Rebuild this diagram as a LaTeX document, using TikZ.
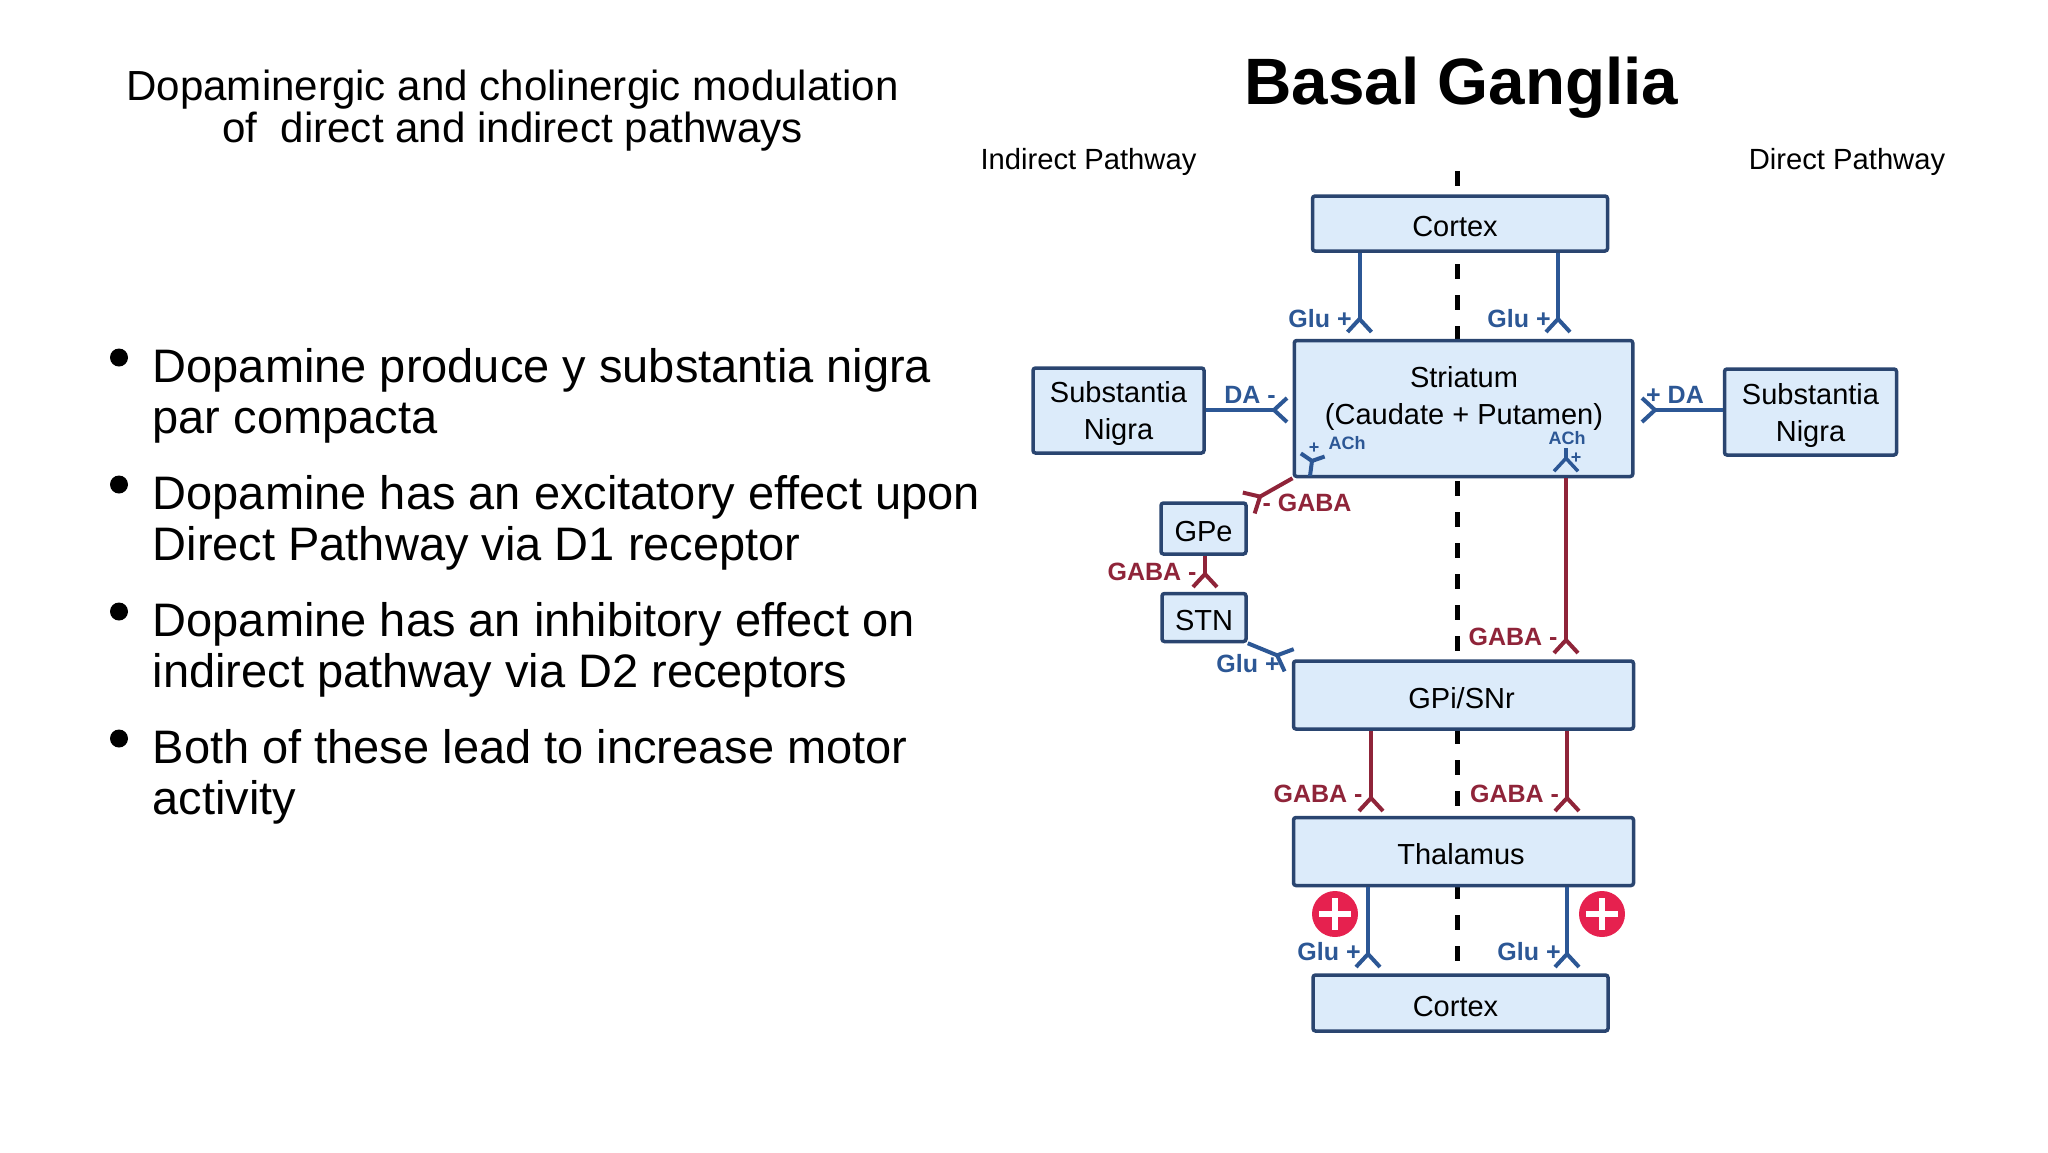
\documentclass[tikz,border=0pt]{standalone}
\usepackage{fontspec}
\setmainfont{Liberation Sans}
\usetikzlibrary{arrows.meta}
\definecolor{boxline}{HTML}{2A4570}
\definecolor{boxfill}{HTML}{DCEBFA}
\definecolor{gluline}{HTML}{2C5795}
\definecolor{gabaline}{HTML}{8F2439}
\definecolor{pluscol}{HTML}{E6214F}
\newcommand{\fs}[1]{\fontsize{#1}{#1}\selectfont}
\tikzset{
area/.style={
  draw=boxline,
  fill=boxfill,
  line width=3.5pt,
  rounded corners=2.5pt,
  inner sep=0pt,
  align=center,
  text depth=0pt,
  font=\fs{29}
},
oneline/.style={area,text height=26pt},
boxtext/.style={inner sep=0pt,align=center,font=\fs{29}},
glu/.style={
  draw=gluline,
  line width=4pt,
  -{Straight Barb[reversed,length=13pt,width=24pt,line cap=butt,line join=miter]}
},
gaba/.style={glu,draw=gabaline},
glulab/.style={text=gluline,font=\bfseries\fs{25},inner sep=0pt},
gabalab/.style={text=gabaline,font=\bfseries\fs{25},inner sep=0pt},
achlab/.style={text=gluline,font=\bfseries\fs{18},inner sep=0pt},
plus/.style={
  circle,
  fill=pluscol,
  minimum size=46pt,
  inner sep=0pt,
  path picture={
    \fill[white] (path picture bounding box.center) +(-16pt,-3.3pt) rectangle +(16pt,3.3pt);
    \fill[white] (path picture bounding box.center) +(-3.3pt,-16pt) rectangle +(3.3pt,16pt);
  }
},
dot/.style={circle,fill=black,minimum size=18pt,inner sep=0pt},
bullet/.style={anchor=west,align=left,inner sep=0pt,font=\fs{47},text height=33pt},
}

\begin{document}
\begin{tikzpicture}[x=1pt,y=-1pt]
\useasboundingbox (0,0) rectangle (2048,1152);
% the heading on the left
\node[align=center,font=\fs{42.1}] (heading) at (512.5,111)
  {Dopaminergic and cholinergic modulation\\of\ \ direct and indirect pathways};
% the bullets
\begin{scope}
\clip (0,300) rectangle (978,900);
\foreach \y/\line/\name in {
  422/{Dopamine produce y substantia nigra\\[4pt]par compacta}/a,
  549/{Dopamine has an excitatory effect upon\\[4pt]Direct Pathway via D1 receptor}/b,
  676/{Dopamine has an inhibitory effect on\\[4pt]indirect pathway via D2 receptors}/c,
  803/{Both of these lead to increase motor\\[4pt]activity}/d}
{
  \node[bullet] (bullet\name) at (152.5,\y) {\line};
  \node[dot] (dot\name) at (119,{\y-64.5}) {};
}
\end{scope}
% the titles
\node[font=\bfseries\fs{65.6}] (title) at (1461.5,88) {Basal Ganglia};
\node[font=\fs{29.2}] (indirect) at (1088.5,162) {Indirect Pathway};
\node[font=\fs{29.2}] (direct) at (1847,162) {Direct Pathway};
% the midline
\coordinate (midtop) at (1457,171);
\coordinate (midbot) at (1457,975);
\draw[line width=5pt,dash pattern=on 15pt off 16pt] (midtop) -- (midbot);
% the boxes
\node[oneline,minimum width=295pt,minimum height=55pt] (cortexa) at (1460,223.5) {\hspace*{-10pt}Cortex};
\node[area,minimum width=338.5pt,minimum height=136pt] (striatum) at (1463.5,408.5) {};
\node[boxtext] (striatumtext) at (1464,398.5) {Striatum\\[8pt](Caudate + Putamen)};
\node[area,minimum width=171pt,minimum height=85pt] (snl) at (1118.5,410.5) {Substantia\\[8pt]Nigra};
\node[area,minimum width=172pt,minimum height=86pt] (snr) at (1810.5,412) {Substantia\\[8pt]Nigra};
\node[oneline,minimum width=85pt,minimum height=51pt] (gpe) at (1203.5,528.5) {GPe};
\node[oneline,minimum width=84pt,minimum height=48pt] (stn) at (1204,617.5) {STN};
\node[oneline,minimum width=340pt,minimum height=68pt] (gpi) at (1463.5,695) {\hspace*{-4pt}GPi/SNr};
\node[oneline,minimum width=340pt,minimum height=68pt] (thalamus) at (1463.5,851.5) {\hspace*{-5pt}Thalamus};
\node[oneline,minimum width=295pt,minimum height=56pt] (cortexb) at (1460.5,1003) {\hspace*{-10pt}Cortex};
% free ends of the connectors
\coordinate (achlin) at (1310,476);
\coordinate (achlout) at (1313,453);
\coordinate (achrin) at (1566,448);
\coordinate (achrout) at (1566,473);
% the connectors
\draw[glu] (cortexa.south -| 1359.5,0) -- (1359.5,334);
\draw[glu] (cortexa.south -| 1558,0) -- (1558,334);
\draw[glu] (snl.east |- 0,410) -- (1289,410);
\draw[glu] (snr.west |- 0,410) -- (1640,410);
\draw[glu,-{Straight Barb[reversed,length=6pt,width=24pt,line cap=butt,line join=miter]}] (achlin) -- (achlout);
\draw[glu,line width=3.5pt] (achrin) -- (achrout);
\draw[gaba] (striatum.south west) -- (1247,504);
\draw[gaba] (gpe.south -| 1205,0) -- (1205,589);
\draw[glu] (stn.south east) -- (1291,661);
\draw[gaba] (striatum.south -| 1566,0) -- (1566,655);
\draw[gaba] (gpi.south -| 1371,0) -- (1371,813);
\draw[gaba] (gpi.south -| 1567,0) -- (1567,813);
\draw[glu] (thalamus.south -| 1368,0) -- (1368,969);
\draw[glu] (thalamus.south -| 1567,0) -- (1567,969);
% the labels
\foreach \x/\y/\name in {1320/319/a,1519/319/b,1248/664/c,1329/952/d,1529/952/e}
  \node[glulab] (glu\name) at (\x,\y) {Glu +};
\foreach \x/\y/\name in {1152/572/a,1513/637/b,1318/794/c,1514.5/794/d}
  \node[gabalab] (gaba\name) at (\x,\y) {GABA -};
\node[gabalab] (gabae) at (1307,503) {- GABA};
\node[glulab] (dal) at (1250,395) {DA -};
\node[glulab] (dar) at (1675,395) {+ DA};
\node[achlab] (achl) at (1347,443) {ACh};
\node[achlab] (achr) at (1567,438) {ACh};
\node[achlab] (achlp) at (1314,448) {+};
\node[achlab] (achrp) at (1576,458) {+};
% the plus signs
\node[plus] (plusl) at (1335,914) {};
\node[plus] (plusr) at (1602,914) {};
\end{tikzpicture}
\end{document}
